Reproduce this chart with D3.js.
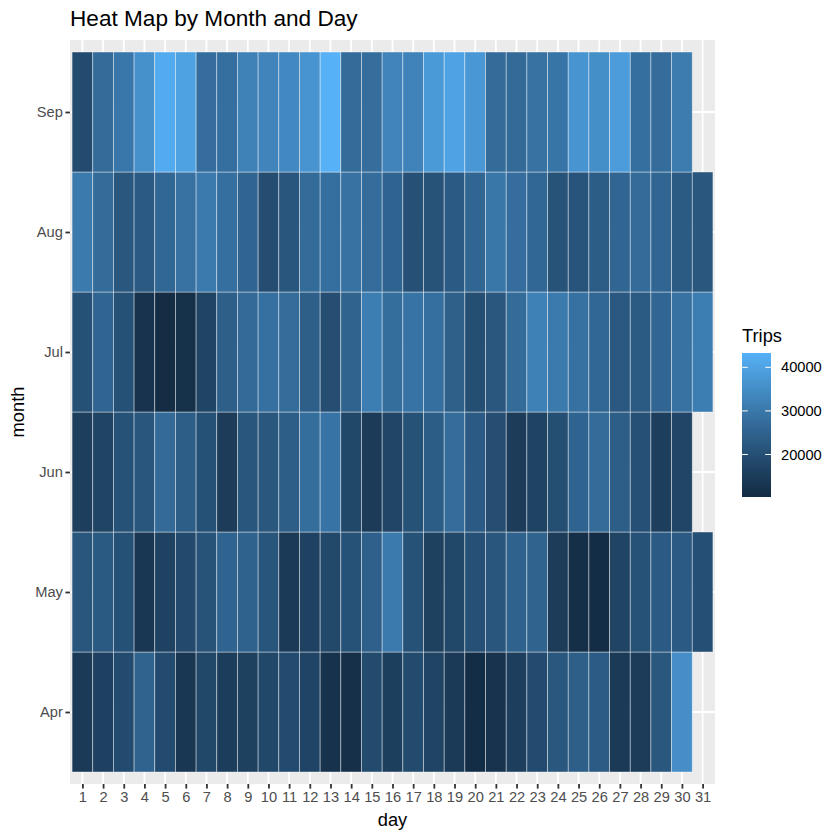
<!DOCTYPE html>
<html>
<head>
<meta charset="utf-8">
<script src="https://cdn.jsdelivr.net/npm/d3@7"></script>
<style>
  html, body { margin: 0; padding: 0; background: #fff; }
  svg { display: block; }
  text { font-family: "Liberation Sans", Arial, sans-serif; }
</style>
</head>
<body>
<div id="chart"></div>
<script>
const days = d3.range(1, 32);
const months = ['Apr', 'May', 'Jun', 'Jul', 'Aug', 'Sep'];
const legendTicks = [20000, 30000, 40000];

const apr = [14500, 16300, 19000, 25200, 19000, 13300, 18000, 15200, 16200, 18000, 19000, 17200, 12300, 11700, 18800, 15700, 18800, 17000, 14300, 10800, 12500, 15600, 19000, 22000, 24000, 23300, 14500, 15000, 22000, 35300];
const may = [21800, 22500, 20400, 13500, 16600, 18700, 21000, 25300, 25000, 21500, 14500, 16500, 18200, 20700, 24300, 30500, 20800, 16200, 18000, 20300, 21800, 24800, 25200, 15000, 11500, 10800, 17000, 20800, 23000, 23000, 20000];
const jun = [15500, 17000, 20800, 21800, 26800, 23800, 20500, 15000, 21800, 22000, 23800, 27600, 29000, 18000, 14800, 17300, 20700, 23500, 27300, 23000, 19700, 15000, 16800, 19800, 25300, 27000, 23800, 20300, 15600, 17300];
const jul = [20500, 25500, 20500, 12500, 10700, 11800, 17000, 24000, 26800, 28300, 27200, 24000, 19700, 25200, 31500, 27600, 29000, 28000, 24200, 19800, 22000, 27000, 32200, 30500, 28500, 26000, 22300, 22800, 25800, 28800, 31500];
const aug = [30500, 27000, 22000, 23000, 26000, 28800, 30500, 28000, 25500, 19500, 21800, 27000, 28000, 28800, 27300, 25300, 20300, 21000, 23000, 25800, 29800, 27800, 26000, 21000, 21300, 23500, 25800, 27000, 25800, 22800, 22000];
const sep = [19000, 27000, 30000, 36000, 42000, 39800, 27800, 28000, 32500, 33000, 34000, 36800, 43280, 27000, 27700, 33000, 32800, 38000, 40200, 37300, 27000, 26700, 28700, 29500, 36800, 35500, 38500, 28000, 27300, 31000];

const tripsByMonth = { Apr: apr, May: may, Jun: jun, Jul: jul, Aug: aug, Sep: sep };
const cells = months.flatMap(m => tripsByMonth[m].map((v, i) => ({ month: m, day: days[i], trips: v })));

const width = 840, height = 840;
const panel = { left: 70, right: 715, top: 40, bottom: 784 };

const svg = d3.select('#chart').append('svg')
  .attr('width', width)
  .attr('height', height);

const x = d3.scalePoint().domain(days).range([panel.left, panel.right]).padding(0.6);
const y = d3.scalePoint().domain(months).range([panel.bottom, panel.top]).padding(0.6);
const colour = d3.scaleLinear()
  .domain([10250, 43280])
  .range(['#132B43', '#56B1F7'])
  .interpolate(d3.interpolateLab);

// panel and grid
svg.append('rect')
  .attr('x', panel.left)
  .attr('y', panel.top)
  .attr('width', panel.right - panel.left)
  .attr('height', panel.bottom - panel.top)
  .attr('fill', '#EBEBEB');

svg.append('g').selectAll('line')
  .data(days)
  .enter().append('line')
    .attr('x1', d => x(d))
    .attr('x2', d => x(d))
    .attr('y1', panel.top)
    .attr('y2', panel.bottom)
    .attr('stroke', '#fff')
    .attr('stroke-width', 1.8);

svg.append('g').selectAll('line')
  .data(months)
  .enter().append('line')
    .attr('x1', panel.left)
    .attr('x2', panel.right)
    .attr('y1', d => y(d))
    .attr('y2', d => y(d))
    .attr('stroke', '#fff')
    .attr('stroke-width', 1.8);

// tiles
svg.append('g').selectAll('rect')
  .data(cells)
  .enter().append('rect')
    .attr('x', d => x(d.day) - x.step() / 2)
    .attr('y', d => y(d.month) - y.step() / 2)
    .attr('width', x.step())
    .attr('height', y.step())
    .attr('fill', d => colour(d.trips))
    .attr('stroke', '#fff')
    .attr('stroke-opacity', 0.55)
    .attr('stroke-width', 0.75);

// axes
const xAxis = svg.append('g')
  .attr('transform', `translate(0,${panel.bottom})`)
  .call(d3.axisBottom(x).tickSize(4.6).tickPadding(2.5));
const yAxis = svg.append('g')
  .attr('transform', `translate(${panel.left},0)`)
  .call(d3.axisLeft(y).tickSize(4.6).tickPadding(2.5));

[xAxis, yAxis].forEach(a => {
  a.select('.domain').remove();
  a.selectAll('.tick line').attr('stroke', '#333').attr('stroke-width', 1.8);
  a.selectAll('.tick text')
    .attr('fill', '#4D4D4D')
    .style('font-family', '"Liberation Sans", Arial, sans-serif')
    .style('font-size', '14.67px');
});

// titles
svg.append('text')
  .attr('x', 70)
  .attr('y', 26)
  .attr('font-size', 22.6)
  .text('Heat Map by Month and Day');

svg.append('text')
  .attr('x', (panel.left + panel.right) / 2)
  .attr('y', 826)
  .attr('text-anchor', 'middle')
  .attr('font-size', 18.3)
  .text('day');

svg.append('text')
  .attr('transform', `translate(24,${(panel.top + panel.bottom) / 2}) rotate(-90)`)
  .attr('text-anchor', 'middle')
  .attr('font-size', 18.3)
  .text('month');

// legend
const legend = { x: 742, width: 29, top: 353, bottom: 497 };
const legendY = d3.scaleLinear().domain(colour.domain()).range([legend.bottom, legend.top]);

const grad = svg.append('defs').append('linearGradient')
  .attr('id', 'trips-grad')
  .attr('x1', 0).attr('x2', 0)
  .attr('y1', 1).attr('y2', 0);
grad.selectAll('stop')
  .data(d3.range(0, 1.0001, 0.05))
  .enter().append('stop')
    .attr('offset', d => d)
    .attr('stop-color', d => colour(colour.domain()[0] + d * (colour.domain()[1] - colour.domain()[0])));

svg.append('text')
  .attr('x', legend.x)
  .attr('y', 342)
  .attr('font-size', 18.3)
  .text('Trips');

svg.append('rect')
  .attr('x', legend.x)
  .attr('y', legend.top)
  .attr('width', legend.width)
  .attr('height', legend.bottom - legend.top)
  .attr('fill', 'url(#trips-grad)');

const lt = svg.append('g').selectAll('g')
  .data(legendTicks)
  .enter().append('g');
lt.append('line')
  .attr('x1', legend.x)
  .attr('x2', legend.x + 5.8)
  .attr('y1', d => legendY(d))
  .attr('y2', d => legendY(d))
  .attr('stroke', '#fff');
lt.append('line')
  .attr('x1', legend.x + legend.width - 5.8)
  .attr('x2', legend.x + legend.width)
  .attr('y1', d => legendY(d))
  .attr('y2', d => legendY(d))
  .attr('stroke', '#fff');
lt.append('text')
  .attr('x', 781)
  .attr('y', d => legendY(d))
  .attr('dy', '0.35em')
  .attr('font-size', 14.67)
  .text(d => d);
</script>
</body>
</html>
